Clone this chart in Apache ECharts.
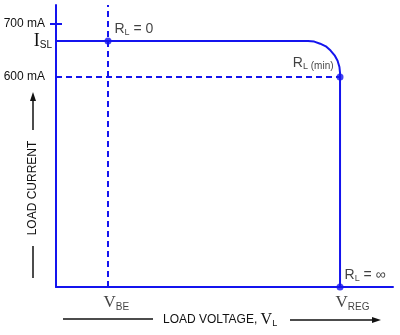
<!DOCTYPE html>
<html><head><meta charset="utf-8">
<script src="https://cdn.jsdelivr.net/npm/echarts@6/dist/echarts.min.js"></script>
<style>html,body{margin:0;padding:0;background:#fff}#c{width:400px;height:335px}</style>
</head><body><div id="c"></div>
<script>
// Axis ranges (schematic: load voltage in V, load current in mA)
const xMin = 0, xMax = 4.536;
const yMin = 204, yMax = 736;
// Key points
const vBE = 0.7;
const vREG = 3.823;
const iTick = 700;
const iSL = 668;
const iMin = 600;
// Characteristic curve
const curveX = [0, 3.392, 3.476, 3.556, 3.632, 3.696, 3.750, 3.790, 3.815, 3.823, 3.823, 3.823];
const curveY = [668, 668, 667, 663, 658, 650, 641, 631, 619, 608, 600, 204];
// Tick labels
const yLabelValues = [700, 668, 600];
const yLabelTexts = ['{t|700 mA}{sp|}', '{i|I}{s|SL}', '{t|600 mA}{sp|}'];

const BLUE = '#1414ee';
const INK = '#111';
const SANS = 'Liberation Sans, Arial, sans-serif';
const SERIF = 'Liberation Serif, Times New Roman, serif';

const chart = echarts.init(document.getElementById('c'), null, {renderer: 'canvas'});

const richR = {
  r: {fontSize: 14, fontFamily: SANS, color: INK, lineHeight: 16},
  s: {fontSize: 9, fontFamily: SANS, color: INK, verticalAlign: 'bottom', lineHeight: 8},
  m: {fontSize: 10, fontFamily: SANS, color: INK, verticalAlign: 'bottom', lineHeight: 9},
  v: {fontSize: 17, fontFamily: SERIF, color: INK, lineHeight: 18},
  b: {fontSize: 10, fontFamily: SANS, color: INK, verticalAlign: 'bottom', lineHeight: 9}
};

function annot(x, y, text, pos, offset) {
  return {value: [x, y], label: {show: true, formatter: text, position: pos, distance: 0, offset: offset, rich: richR}};
}

const option = {
  backgroundColor: '#fff',
  animation: false,
  grid: {left: 56, right: 7, top: 5, bottom: 48, outerBoundsMode: 'none'},
  xAxis: {
    type: 'value', min: xMin, max: xMax,
    axisLine: {show: true, lineStyle: {color: BLUE, width: 2}},
    axisTick: {show: false}, axisLabel: {show: false}, splitLine: {show: false}
  },
  yAxis: [{
    type: 'value', min: yMin, max: yMax,
    axisLine: {show: true, lineStyle: {color: BLUE, width: 2}},
    axisTick: {show: true, customValues: [iTick], length: 6, lineStyle: {color: BLUE, width: 2}},
    axisLabel: {
      show: true, customValues: yLabelValues, margin: 4,
      formatter: function (v) { return yLabelTexts[yLabelValues.indexOf(v)] || ''; },
      rich: {
        t: {fontSize: 12, fontFamily: SANS, color: INK},
        sp: {width: 7},
        i: {fontSize: 18, fontFamily: SERIF, color: INK, lineHeight: 18},
        s: {fontSize: 10, fontFamily: SANS, color: INK, verticalAlign: 'bottom', lineHeight: 8}
      }
    },
    splitLine: {show: false}
  }, {
    type: 'value', min: yMin, max: yMax, position: 'left',
    axisLine: {show: false},
    axisTick: {show: true, inside: true, customValues: [iTick], length: 6, lineStyle: {color: BLUE, width: 2}},
    axisLabel: {show: false}, splitLine: {show: false}
  }],
  series: [
    {
      type: 'line', name: 'curve', symbol: 'none',
      data: curveX.map((x, i) => [x, curveY[i]]),
      lineStyle: {color: BLUE, width: 2}
    },
    {
      type: 'line', name: 'vbe', symbol: 'none',
      data: [[vBE, yMin], [vBE, yMax]],
      lineStyle: {color: BLUE, width: 2, type: [6, 4]}
    },
    {
      type: 'line', name: 'imin', symbol: 'none',
      data: [[xMin, iMin], [vREG, iMin]],
      lineStyle: {color: BLUE, width: 2, type: [6, 4]}
    },
    {
      type: 'scatter', name: 'dots', symbolSize: 7,
      itemStyle: {color: BLUE},
      data: [[vBE, iSL], [vREG, iMin], [vREG, yMin]]
    },
    {
      type: 'scatter', name: 'labels', symbolSize: 1,
      itemStyle: {color: 'rgba(0,0,0,0)'},
      data: [
        annot(vBE, iSL, '{r|R}{s|L}{r| = 0}', 'right', [6, -12]),
        annot(vREG, iMin, '{r|R}{s|L}{m| (min)}', 'left', [-6, -14]),
        annot(vREG, yMin, '{r|R}{s|L}{r| = ∞}', 'right', [4, -12]),
        annot(vBE, yMin, '{v|V}{b|BE}', 'right', [-5, 16]),
        annot(vREG, yMin, '{v|V}{b|REG}', 'right', [-5, 16])
      ]
    }
  ],
  graphic: [
    {type: 'text', x: 33, y: 188, rotation: Math.PI / 2,
      style: {text: 'LOAD CURRENT', fontSize: 12, fontFamily: SANS, fill: INK, align: 'center', verticalAlign: 'middle'}},
    {type: 'line', shape: {x1: 33, y1: 130, x2: 33, y2: 99}, style: {stroke: INK, lineWidth: 1.5}},
    {type: 'polygon', shape: {points: [[33, 92], [30, 101], [36, 101]]}, style: {fill: INK}},
    {type: 'line', shape: {x1: 33, y1: 246, x2: 33, y2: 278}, style: {stroke: INK, lineWidth: 1.5}},
    {type: 'line', shape: {x1: 63, y1: 319, x2: 153, y2: 319}, style: {stroke: INK, lineWidth: 1.5}},
    {type: 'text', x: 163, y: 320,
      style: {text: '{a|LOAD VOLTAGE, }{v|V}{b|L}', align: 'left', verticalAlign: 'middle',
        rich: {
          a: {fontSize: 12, fontFamily: SANS, fill: INK, lineHeight: 16},
          v: {fontSize: 16, fontFamily: SERIF, fill: INK, lineHeight: 16},
          b: {fontSize: 9, fontFamily: SANS, fill: INK, verticalAlign: 'bottom', lineHeight: 8}
        }}},
    {type: 'line', shape: {x1: 290, y1: 320, x2: 373, y2: 320}, style: {stroke: INK, lineWidth: 1.5}},
    {type: 'polygon', shape: {points: [[381, 320], [372, 317], [372, 323]]}, style: {fill: INK}}
  ]
};
chart.setOption(option);
</script>
</body></html>
